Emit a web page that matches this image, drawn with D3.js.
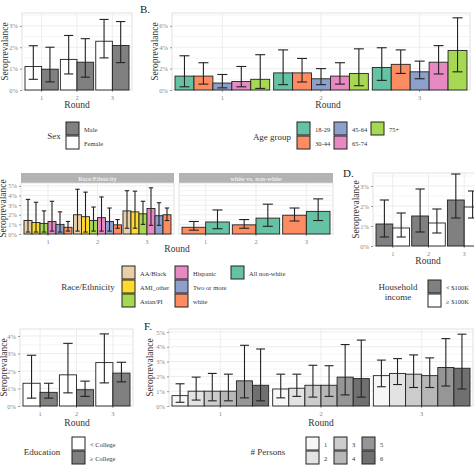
<!DOCTYPE html>
<html><head><meta charset="utf-8">
<script src="https://cdn.jsdelivr.net/npm/d3@7"></script>
<style>body{margin:0;background:#fff}svg{font-family:"Liberation Serif","DejaVu Serif",serif}</style>
</head><body><svg id="c" width="474" height="474"></svg>
<script>
const rounds = ["1","2","3"];
// [estimate, lower, upper] in %
const sexGroups = ["Female","Male"];
const sexVals = [[[1.1,0.5,2.07],[0.97,0.38,2.0]],[[1.43,0.75,2.55],[1.3,0.6,2.4]],[[2.28,1.5,3.3],[2.08,1.28,3.2]]];
const sexColors = ["#ffffff","#808080"];
const ageGroups = ["18-29","30-44","45-64","65-74","75+"];
const ageVals = [
 [[1.3,0.3,3.2],[1.3,0.55,2.55],[0.65,0.2,1.45],[0.8,0.3,2.2],[1.0,0.15,3.3]],
 [[1.6,0.5,3.75],[1.6,0.75,2.95],[1.05,0.5,2.0],[1.3,0.55,2.55],[1.55,0.4,3.85]],
 [[2.1,0.9,3.95],[2.4,1.55,3.75],[1.7,1.05,2.7],[2.6,1.5,4.15],[3.7,1.7,6.75]]];
const ageColors = ["#66c2a5","#fc8d62","#8da0cb","#e78ac3","#a6d854"];
const raceGroups = ["AA/Black","AMI_other","Asian/PI","Hispanic","Two or more","white"];
const raceVals = [
 [[1.4,0.2,3.6],[1.2,0.2,3.3],[1.1,0.2,2.4],[1.3,0.3,3.4],[1.0,0.2,2.3],[0.7,0.3,1.3]],
 [[2.0,0.3,4.65],[1.8,0.2,4.35],[1.4,0.3,2.8],[1.7,0.3,3.85],[1.3,0.3,2.7],[0.95,0.6,1.5]],
 [[2.4,0.6,4.5],[2.3,0.6,4.45],[2.1,1.0,3.4],[2.65,0.9,4.8],[1.9,0.9,3.25],[2.0,1.4,2.7]]];
const raceColors = ["#e8cfa6","#ffd92f","#a6d854","#e78ac3","#8da0cb","#fc8d62"];
const wnwGroups = ["white","All non-white"];
const wnwVals = [[[0.7,0.4,1.3],[1.25,0.55,2.5]],[[0.95,0.6,1.5],[1.65,0.8,3.1]],[[1.95,1.35,2.7],[2.35,1.4,3.65]]];
const wnwColors = ["#fc8d62","#66c2a5"];
const incGroups = ["< $100K","≥ $100K"];
const incVals = [[[1.1,0.45,2.3],[0.9,0.45,1.65]],[[1.5,0.7,2.85],[1.15,0.65,1.85]],[[2.3,1.4,3.6],[1.95,1.4,2.75]]];
const incColors = ["#808080","#ffffff"];
const eduGroups = ["< College","≥ College"];
const eduVals = [[[1.3,0.45,2.9],[0.78,0.45,1.3]],[[1.78,0.75,3.58],[0.93,0.55,1.42]],[[2.48,1.32,4.12],[1.88,1.38,2.5]]];
const eduColors = ["#ffffff","#808080"];
const persGroups = ["1","2","3","4","5","6"];
const persVals = [
 [[0.7,0.25,1.5],[1.0,0.4,1.95],[1.0,0.35,2.2],[1.0,0.35,2.15],[1.7,0.55,4.1],[1.4,0.35,3.85]],
 [[1.15,0.55,2.15],[1.2,0.65,2.15],[1.4,0.6,2.75],[1.4,0.65,2.72],[1.95,0.75,4.15],[1.85,0.6,4.45]],
 [[2.05,1.3,3.1],[2.2,1.45,3.2],[2.15,1.25,3.45],[2.05,1.25,3.25],[2.6,1.35,4.55],[2.55,1.15,4.85]]];
const persColors = ["#f7f7f7","#e3e3e3","#cccccc","#b7b7b7","#969696","#707070"];

const svg = d3.select("#c");
const grid="#ebebeb";

function panel(o){
  const g = svg.append("g");
  const y = d3.scaleLinear().domain([0,o.ymax]).range([o.y1,o.y0]);
  const x = d3.scaleBand().domain(rounds).range([o.x0+(o.padL||3),o.x1-(o.padR||3)]).paddingInner(o.pin||0.06);
  const xi = d3.scaleBand().domain(d3.range(o.groups.length)).range([0,x.bandwidth()]);
  g.append("rect").attr("x",o.x0).attr("y",o.y0).attr("width",o.x1-o.x0).attr("height",o.y1-o.y0).attr("fill","none").attr("stroke","#d9d9d9").attr("stroke-width",0.8);
  const minor = d3.range(o.step/2, o.ymax, o.step);
  minor.forEach(t=>g.append("line").attr("x1",o.x0).attr("x2",o.x1).attr("y1",y(t)).attr("y2",y(t)).attr("stroke",grid).attr("stroke-width",0.5));
  o.ticks.forEach(t=>g.append("line").attr("x1",o.x0).attr("x2",o.x1).attr("y1",y(t)).attr("y2",y(t)).attr("stroke",grid).attr("stroke-width",0.9));
  rounds.forEach(r=>g.append("line").attr("x1",x(r)+x.bandwidth()/2).attr("x2",x(r)+x.bandwidth()/2).attr("y1",o.y0).attr("y2",o.y1).attr("stroke",grid).attr("stroke-width",0.9));
  if(!o.noY){
    const ax = g.append("g").attr("transform",`translate(${o.x0},0)`).call(d3.axisLeft(y).tickValues(o.ticks).tickFormat(d=>d+"%").tickSize(2).tickPadding(2));
    ax.select(".domain").remove(); ax.selectAll("line").attr("stroke","#999");
    ax.selectAll("text").attr("fill","#888").style("font-size","6.5px").style("font-family","Liberation Serif");
    if(o.ytitle) g.append("text").attr("transform",`translate(${o.ytx},${(o.y0+o.y1)/2}) rotate(-90)`).attr("text-anchor","middle").style("font-size","9.5px").attr("fill","#333").text("Seroprevalance");
  }
  const ax2 = g.append("g").attr("transform",`translate(0,${o.y1})`).call(d3.axisBottom(x).tickSize(2).tickPadding(3));
  ax2.select(".domain").remove(); ax2.selectAll("line").attr("stroke","#999");
  ax2.selectAll("text").attr("fill","#888").style("font-size","6.5px").style("font-family","Liberation Serif");
  if(o.xtitle) g.append("text").attr("x",o.xtx).attr("y",o.xty).attr("text-anchor","middle").style("font-size","9.5px").attr("fill","#333").text("Round");
  const bw = xi.bandwidth();
  o.vals.forEach((row,ri)=>row.forEach((d,gi)=>{
    const bx = x(rounds[ri])+xi(gi);
    g.append("rect").attr("x",bx).attr("y",y(d[0])).attr("width",bw).attr("height",o.y1-y(d[0])).attr("fill",o.colors[gi]).attr("stroke","#222").attr("stroke-width",0.9);
    const cx=bx+bw/2, cw=Math.min(bw*0.55,10)/2;
    g.append("line").attr("x1",cx).attr("x2",cx).attr("y1",y(d[1])).attr("y2",y(d[2])).attr("stroke","#222").attr("stroke-width",1.1);
    [d[1],d[2]].forEach(v=>g.append("line").attr("x1",cx-cw).attr("x2",cx+cw).attr("y1",y(v)).attr("y2",y(v)).attr("stroke","#222").attr("stroke-width",1.1));
  }));
  return g;
}
function legend(title,tx,ty,items,colors,cols,x0,y0,dx,dy,sw,titleLines){
  const g=svg.append("g");
  (titleLines||[title]).forEach((t,i)=>g.append("text").attr("x",tx).attr("y",ty+i*10).attr("text-anchor","middle").style("font-size","9px").attr("fill","#333").text(t));
  const rows=Math.ceil(items.length/cols);
  items.forEach((it,i)=>{
    const c=Math.floor(i/rows), r=i%rows;
    const xx=x0+c*dx, yy=y0+r*dy;
    g.append("rect").attr("x",xx).attr("y",yy).attr("width",sw).attr("height",dy-1).attr("fill",colors[i]).attr("stroke","#222").attr("stroke-width",1);
    g.append("text").attr("x",xx+sw+5).attr("y",yy+dy/2+2.5).style("font-size","6.5px").attr("fill","#333").text(it);
  });
}
function label(t,x,y){svg.append("text").attr("x",x).attr("y",y).style("font-size","11px").attr("fill","#222").text(t);}

// A
panel({x0:22,x1:132,y0:13,y1:90,ymax:3.6,ticks:[0,1,2,3],step:1,groups:sexGroups,vals:sexVals,colors:sexColors,ytitle:true,ytx:8,xtitle:true,xtx:77,xty:108});
legend("Sex",54,139,["Male","Female"],["#808080","#ffffff"],1,66,122,0,14,13);
// B
label("B.",140,13);
panel({x0:172,x1:470,y0:13,y1:90,ymax:7.2,ticks:[0,2,4,6],step:2,pin:0.04,groups:ageGroups,vals:ageVals,colors:ageColors,ytitle:true,ytx:158,xtitle:true,xtx:328,xty:108});
legend("Age group",272,140,ageGroups,ageColors,3,297,122,37,14,13);
// C
[["Race/Ethnicity",21,174],["white vs. non-white",179,333]].forEach(s=>{
  svg.append("rect").attr("x",s[1]).attr("y",173).attr("width",s[2]-s[1]).attr("height",10).attr("fill","#b3b3b3");
  svg.append("text").attr("x",(s[1]+s[2])/2).attr("y",180.5).attr("text-anchor","middle").style("font-size","6.5px").attr("fill","#fff").text(s[0]);
});
panel({x0:21,x1:174,y0:183,y1:234,ymax:5.3,ticks:[0,1,2,3,4,5],step:1,pin:0.03,groups:raceGroups,vals:raceVals,colors:raceColors,ytitle:true,ytx:6});
panel({x0:179,x1:333,y0:183,y1:234,ymax:5.3,ticks:[0,1,2,3,4,5],step:1,groups:wnwGroups,vals:wnwVals,colors:wnwColors,noY:true});
svg.append("text").attr("x",177).attr("y",252).attr("text-anchor","middle").style("font-size","9.5px").attr("fill","#333").text("Round");
legend("Race/Ethnicity",88,290,["AA/Black","AMI_other","Asian/PI","Hispanic","Two or more","white"],raceColors,2,122,266,53,14,13);
legend("",0,0,["All non-white"],["#66c2a5"],1,231,266,0,14,13);
// D
label("D.",343,177);
panel({x0:373,x1:490,y0:173,y1:246,ymax:3.65,ticks:[0,1,2,3],step:1,groups:incGroups,vals:incVals,colors:incColors,ytitle:true,ytx:359,padL:3,padR:9});
svg.append("text").attr("x",428).attr("y",264).attr("text-anchor","middle").style("font-size","9.5px").attr("fill","#333").text("Round");
legend("",398,290,incGroups,incColors,1,428,280,0,14,13,["Household","income"]);
// E
panel({x0:20,x1:133,y0:329,y1:406,ymax:4.4,ticks:[0,1,2,3,4],step:1,groups:eduGroups,vals:eduVals,colors:eduColors,ytitle:true,ytx:7,xtitle:true,xtx:77,xty:426});
legend("Education",42,455,eduGroups,eduColors,1,72,437,0,14,13);
// F
label("F.",144,330);
panel({x0:169,x1:473,y0:329,y1:406,ymax:5.2,ticks:[0,1,2,3,4,5],step:1,pin:0.04,groups:persGroups,vals:persVals,colors:persColors,ytitle:true,ytx:153,xtitle:true,xtx:321,xty:426});
legend("# Persons",268,455,persGroups,persColors,3,306,437,28,14,13);
</script></body></html>
